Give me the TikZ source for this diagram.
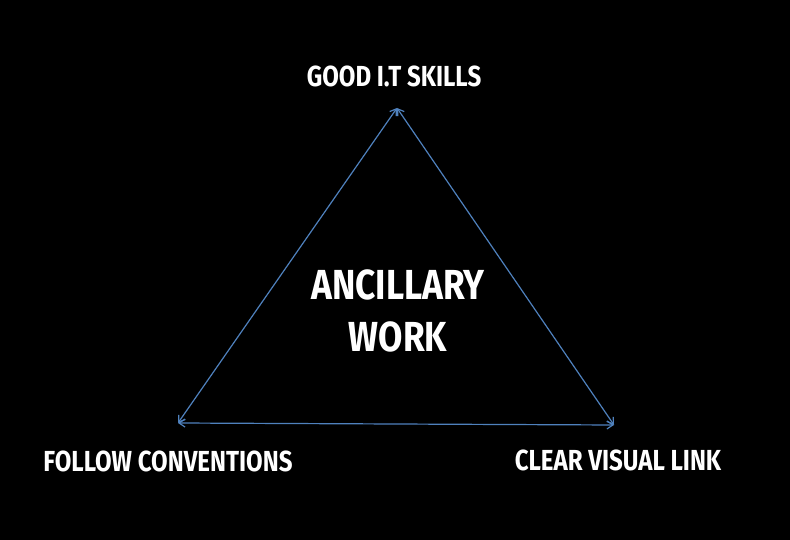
\documentclass[tikz,border=0pt]{standalone}
\usepackage{fontspec}
\setmainfont{Fira Sans}
\usetikzlibrary{arrows.meta}
\definecolor{lineblue}{RGB}{79,129,189}
\begin{document}
\begin{tikzpicture}[x=1pt,y=-1pt,
  lbl/.style={text=white,font=\fontsize{29}{32}\selectfont\bfseries,inner sep=0pt},
  big/.style={text=white,font=\fontsize{42}{52}\selectfont\bfseries,align=center,inner sep=0pt},
  edge/.style={draw=lineblue,line width=1.2pt,{Straight Barb[length=6pt,width=8pt]}-{Straight Barb[length=6pt,width=8pt]}}]
\fill[black] (0,0) rectangle (790,540);
\coordinate (t) at (397,108);
\coordinate (l) at (178,423);
\coordinate (r) at (614,425);
\draw[edge] (t) -- (l);
\draw[edge] (l) -- (r);
\draw[edge] (r) -- (t);
\node[lbl,xscale=0.83] (tl) at (394,76) {GOOD I.T SKILLS};
\node[lbl,xscale=0.83] (ll) at (168,461) {FOLLOW CONVENTIONS};
\node[lbl,xscale=0.83] (rl) at (618,460) {CLEAR VISUAL LINK};
\node[big,xscale=0.84] (c) at (398,311) {ANCILLARY\\WORK};
\end{tikzpicture}
\end{document}
